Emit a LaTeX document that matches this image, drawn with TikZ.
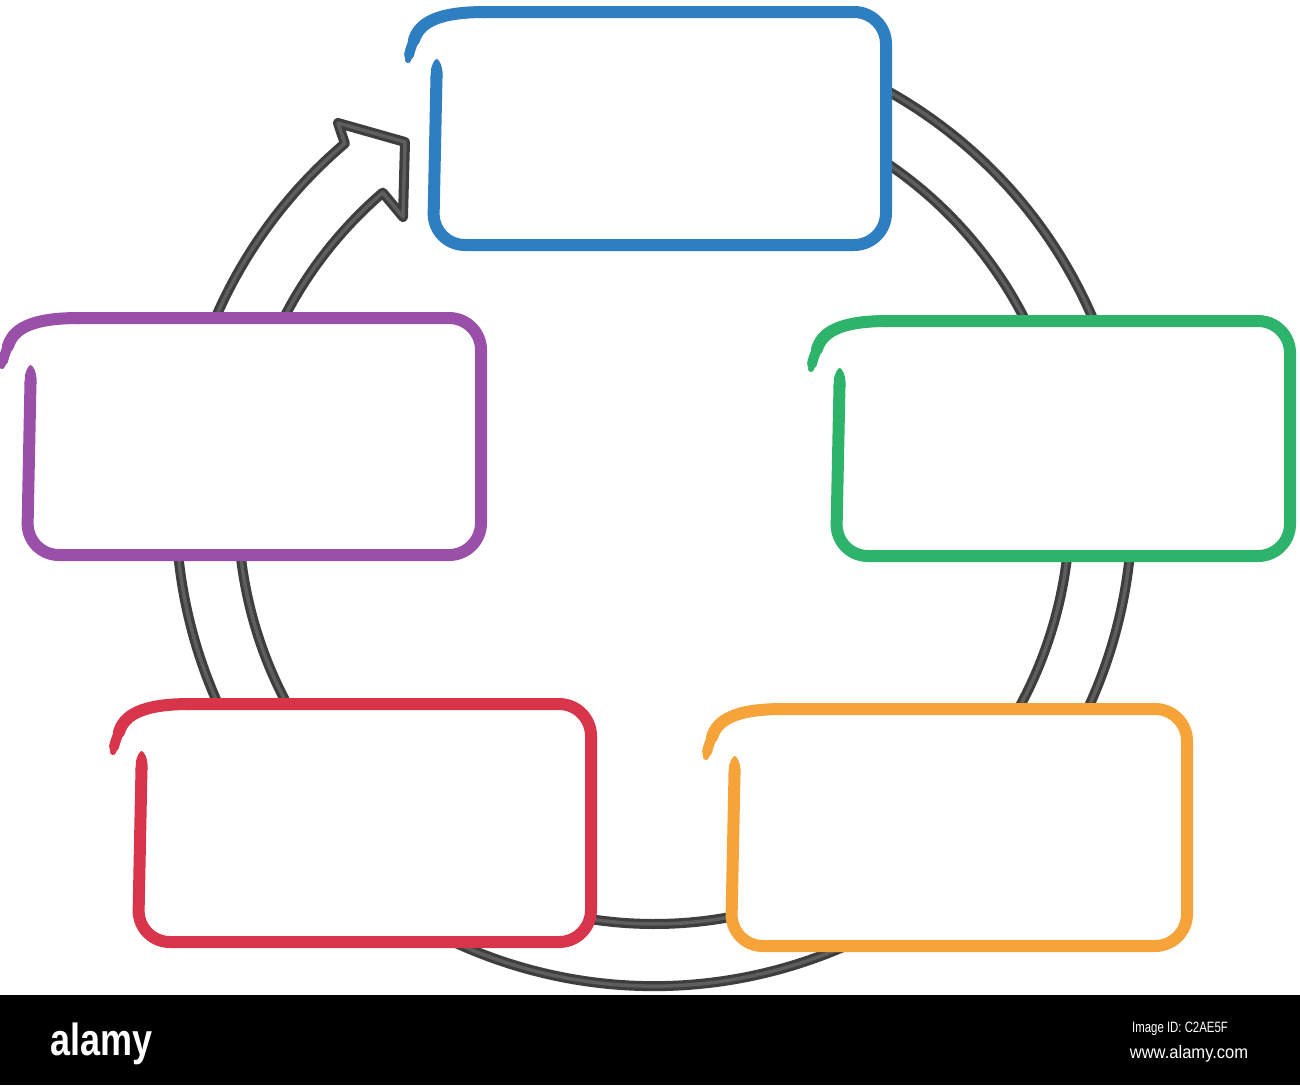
\documentclass[tikz,border=0pt]{standalone}
\usepackage{fontspec}
\usepackage{graphicx}
\newfontfamily\wmfont{Liberation Sans}
\definecolor{cbblue}{HTML}{2E7EC2}
\definecolor{cbgreen}{HTML}{2DB46A}
\definecolor{cbpurple}{HTML}{9A50A8}
\definecolor{cbred}{HTML}{D8344A}
\definecolor{cborange}{HTML}{F6A33A}
\definecolor{ringdark}{HTML}{3E3E3E}
\definecolor{ringmid}{HTML}{5E5E5E}
\tikzset{
  boxfill/.style={fill=white, draw=none, rounded corners=32pt, inner sep=0pt, outer sep=0pt},
  boxline/.style={line width=12pt, line cap=round, line join=round},
  ringline/.style={draw=ringdark, line width=10pt, line join=round, line cap=round},
  ringcore/.style={draw=ringmid, line width=3.5pt, line join=round, line cap=round},
}
\newcommand\cyclebox[6]{%
  \pgfmathsetmacro\cbw{#5-#3}\pgfmathsetmacro\cbh{#6-#4}%
  \node[boxfill, minimum width=\cbw pt, minimum height=\cbh pt] (#1) at ({(#3+#5)/2},{(#4+#6)/2}) {};
  \draw[boxline, draw=#2, line cap=butt, rounded corners=32pt] ({#3+3.5},{#4+64}) -- (#3,#6) -- (#5,#6) -- (#5,#4) -- ({#3+50},#4);
  \fill[#2] ({#3-2.5},{#4+66}) -- ({#3-2},{#4+57}) .. controls ({#3},{#4+50}) and ({#3+2},{#4+47}) .. ({#3+4},{#4+47}) .. controls ({#3+7},{#4+49}) and ({#3+9},{#4+54}) .. ({#3+9.5},{#4+60}) -- ({#3+9.5},{#4+66}) -- cycle;
  \draw[boxline, draw=#2] ({#3+52},#4) .. controls ({#3+2},{#4}) and ({#3-14},{#4+12}) .. ({#3-19},{#4+28});
  \draw[draw=#2, line width=10pt, line cap=round] ({#3-19},{#4+28}) .. controls ({#3-21},{#4+33}) and ({#3-23},{#4+38}) .. ({#3-24},{#4+43});
  \draw[draw=#2, line width=6pt, line cap=round] ({#3-24},{#4+43}) -- ({#3-25},{#4+48});
}
\begin{document}
\begin{tikzpicture}[x=1pt, y=1pt, yscale=-1]
\useasboundingbox (0,0) rectangle (1300,1085);
\fill[white] (0,0) rectangle (1300,1085);
% ring with arrowhead
\coordinate (C) at (654,508);
\coordinate (barbA) at (338,123);
\coordinate (tip) at (405,142);
\coordinate (barbB) at (403,217);
\path (C) ++(250:478) coordinate (outerStart);
\path (C) ++(589.7:478) coordinate (outerNotch);
\path (C) ++(589.3:416) coordinate (innerNotch);
\path (C) ++(250:416) coordinate (innerStart);
\foreach \st in {ringline, ringcore}{
  \draw[\st] (outerStart) arc[start angle=250, end angle=589.7, radius=478]
    -- (barbA) -- (tip) -- (barbB) -- (innerNotch)
    arc[start angle=589.3, end angle=250, radius=416];
}
% boxes
\cyclebox{blue}{cbblue}{433}{12}{886}{245}
\cyclebox{purple}{cbpurple}{27}{318}{481}{555}
\cyclebox{green}{cbgreen}{836}{321}{1290}{556}
\cyclebox{red}{cbred}{138}{704}{591}{942}
\cyclebox{orange}{cborange}{731}{709}{1187}{946}
% footer
\fill[black] (0,995) rectangle (1300,1085);
\node[anchor=base west, inner sep=0pt, text=white] (logo) at (50,1055)
  {\scalebox{0.8}[1]{\wmfont\bfseries\fontsize{45}{50}\selectfont alamy}};
\node[anchor=base, inner sep=0pt, text=white] (imgid) at (1180,1032)
  {\scalebox{0.76}[1]{\wmfont\fontsize{15}{18}\selectfont Image ID: C2AE5F}};
\node[anchor=base, inner sep=0pt, text=white] (site) at (1189,1058)
  {\scalebox{0.92}[1]{\wmfont\fontsize{18}{20}\selectfont www.alamy.com}};
\end{tikzpicture}
\end{document}
